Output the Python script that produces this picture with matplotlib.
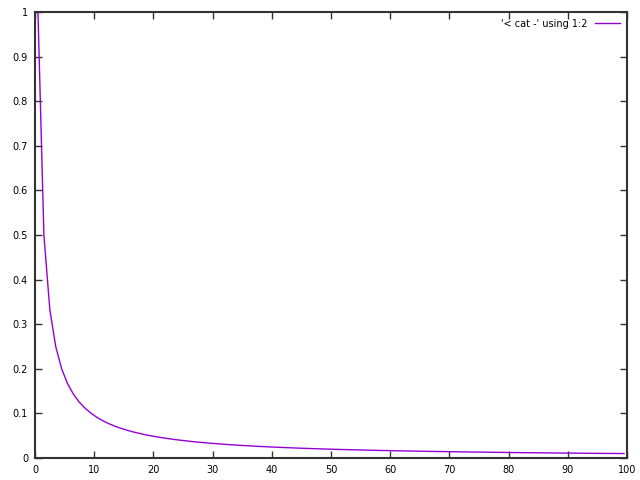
import matplotlib
matplotlib.use("Agg")
import matplotlib.pyplot as plt

# data (points at x = n - 0.5)
x_vals = [0.5, 1.5, 2.5, 3.5, 4.5, 5.5, 6.5, 7.5, 8.5, 9.5,
          10.5, 11.5, 12.5, 13.5, 14.5, 15.5, 16.5, 17.5, 18.5, 19.5,
          20.5, 21.5, 22.5, 23.5, 24.5, 25.5, 26.5, 27.5, 28.5, 29.5,
          30.5, 31.5, 32.5, 33.5, 34.5, 35.5, 36.5, 37.5, 38.5, 39.5,
          40.5, 41.5, 42.5, 43.5, 44.5, 45.5, 46.5, 47.5, 48.5, 49.5,
          50.5, 51.5, 52.5, 53.5, 54.5, 55.5, 56.5, 57.5, 58.5, 59.5,
          60.5, 61.5, 62.5, 63.5, 64.5, 65.5, 66.5, 67.5, 68.5, 69.5,
          70.5, 71.5, 72.5, 73.5, 74.5, 75.5, 76.5, 77.5, 78.5, 79.5,
          80.5, 81.5, 82.5, 83.5, 84.5, 85.5, 86.5, 87.5, 88.5, 89.5,
          90.5, 91.5, 92.5, 93.5, 94.5, 95.5, 96.5, 97.5, 98.5, 99.5]
y_vals = [1.0000, 0.5000, 0.3333, 0.2500, 0.2000, 0.1667, 0.1429, 0.1250, 0.1111, 0.1000,
          0.0909, 0.0833, 0.0769, 0.0714, 0.0667, 0.0625, 0.0588, 0.0556, 0.0526, 0.0500,
          0.0476, 0.0455, 0.0435, 0.0417, 0.0400, 0.0385, 0.0370, 0.0357, 0.0345, 0.0333,
          0.0323, 0.0313, 0.0303, 0.0294, 0.0286, 0.0278, 0.0270, 0.0263, 0.0256, 0.0250,
          0.0244, 0.0238, 0.0233, 0.0227, 0.0222, 0.0217, 0.0213, 0.0208, 0.0204, 0.0200,
          0.0196, 0.0192, 0.0189, 0.0185, 0.0182, 0.0179, 0.0175, 0.0172, 0.0169, 0.0167,
          0.0164, 0.0161, 0.0159, 0.0156, 0.0154, 0.0152, 0.0149, 0.0147, 0.0145, 0.0143,
          0.0141, 0.0139, 0.0137, 0.0135, 0.0133, 0.0132, 0.0130, 0.0128, 0.0127, 0.0125,
          0.0123, 0.0122, 0.0120, 0.0119, 0.0118, 0.0116, 0.0115, 0.0114, 0.0112, 0.0111,
          0.0110, 0.0109, 0.0108, 0.0106, 0.0105, 0.0104, 0.0103, 0.0102, 0.0101, 0.0100]
x_ticks = [0, 10, 20, 30, 40, 50, 60, 70, 80, 90, 100]
y_ticks = [0, 0.1, 0.2, 0.3, 0.4, 0.5, 0.6, 0.7, 0.8, 0.9, 1]
y_labels = ['0', '0.1', '0.2', '0.3', '0.4', '0.5', '0.6', '0.7', '0.8', '0.9', '1']
label = "'< cat -' using 1:2"

plt.rcParams['font.family'] = 'DejaVu Sans'
plt.rcParams['font.size'] = 7

fig = plt.figure(figsize=(6.4, 4.8), dpi=100)
ax = fig.add_axes([0.0547, 0.0458, 0.925, 0.929])
ax.plot(x_vals, y_vals, color='#9400D3', linewidth=1, label=label)

ax.set_xlim(0, 100)
ax.set_ylim(0, 1)
ax.set_xticks(x_ticks)
ax.set_yticks(y_ticks)
ax.set_yticklabels(y_labels)
ax.tick_params(direction='in', top=True, right=True, length=5, width=1,
               color='#333333', labelsize=7, pad=5)
for s in ax.spines.values():
    s.set_linewidth(1.5)
    s.set_color('#333333')

leg = ax.legend(loc='upper right', frameon=False, markerfirst=False,
                handlelength=2.6, fontsize=7, borderaxespad=0.3)

fig.savefig('out.png', dpi=100)
